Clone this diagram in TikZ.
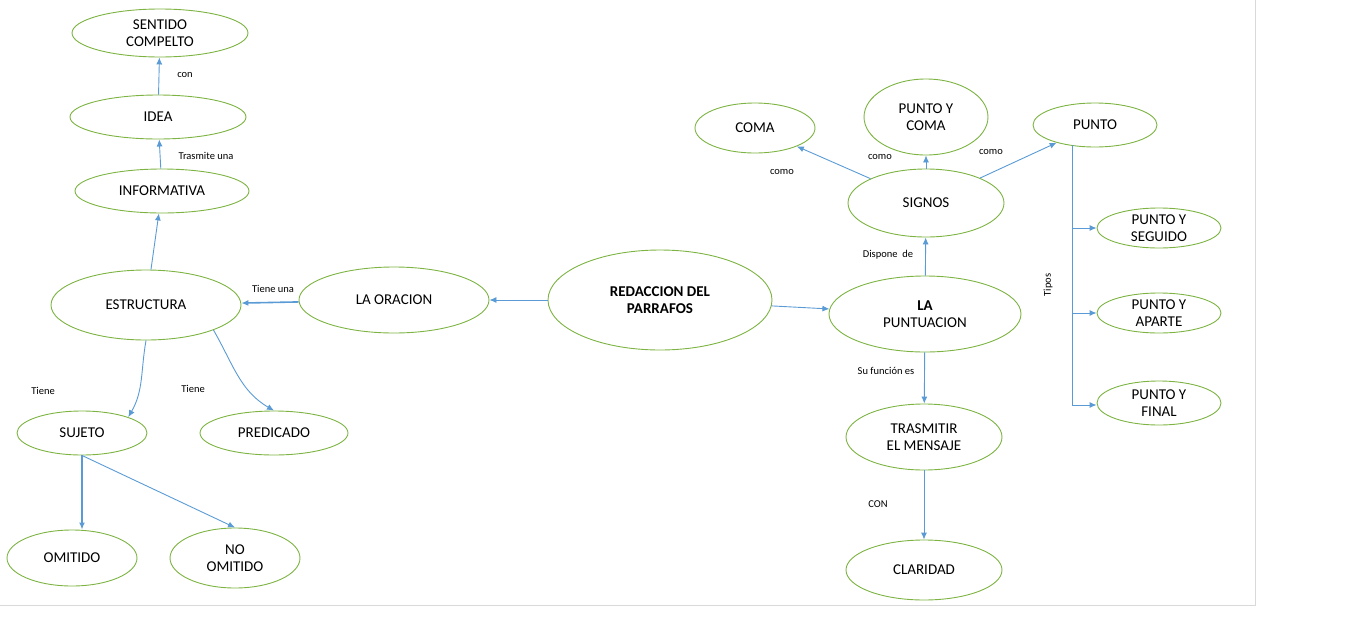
\documentclass[tikz,border=0pt]{standalone}
\usepackage{fontspec}
\setmainfont{Carlito}
\usetikzlibrary{shapes.geometric,arrows.meta}
\definecolor{lineblue}{HTML}{5B9BD5}
\definecolor{ovalgreen}{HTML}{7CB342}
\tikzset{
  concept/.style={ellipse, draw=ovalgreen, line width=0.9pt, inner sep=0pt,
    align=center, font=\fontsize{15}{17}\selectfont},
  link/.style={draw=lineblue, line width=0.9pt, -{Latex[length=7pt,width=6pt]}},
  tag/.style={font=\fontsize{10.5}{12}\selectfont}
}
\begin{document}
\begin{tikzpicture}[x=1pt,y=-1pt]
	\useasboundingbox (0,0) rectangle (1366,619);
	\draw[gray!30, line width=1pt] (1255,0) -- (1255,605) -- (0,605);

	% conceptos
	\node[concept, minimum width=176, minimum height=48] (sentido) at (160,33) {SENTIDO\\COMPELTO};
	\node[concept, minimum width=176, minimum height=44] (idea) at (158,117) {IDEA};
	\node[concept, minimum width=174, minimum height=44] (informativa) at (162,191) {INFORMATIVA};
	\node[concept, minimum width=190, minimum height=70] (estructura) at (146,305) {ESTRUCTURA};
	\node[concept, minimum width=190, minimum height=66] (oracion) at (394,300) {LA ORACION};
	\node[concept, minimum width=224, minimum height=100, font=\bfseries\fontsize{15}{17}\selectfont] (redaccion) at (660,300) {REDACCION DEL\\PARRAFOS};
	\node[concept, minimum width=192, minimum height=76] (puntuacion) at (925,314) {\textbf{LA}\\PUNTUACION};
	\node[concept, minimum width=156, minimum height=68] (signos) at (926,203) {SIGNOS};
	\node[concept, minimum width=120, minimum height=50] (coma) at (755,128) {COMA};
	\node[concept, minimum width=124, minimum height=76] (puntoycoma) at (926,117) {PUNTO Y\\COMA};
	\node[concept, minimum width=124, minimum height=44] (punto) at (1095,125) {PUNTO};
	\node[concept, minimum width=124, minimum height=40] (seguido) at (1159,228) {PUNTO Y\\SEGUIDO};
	\node[concept, minimum width=124, minimum height=40] (aparte) at (1159,313) {PUNTO Y\\APARTE};
	\node[concept, minimum width=124, minimum height=44] (final) at (1159,403) {PUNTO Y\\FINAL};
	\node[concept, minimum width=156, minimum height=66] (trasmitir) at (924,437) {TRASMITIR\\EL MENSAJE};
	\node[concept, minimum width=156, minimum height=60] (claridad) at (924,570) {CLARIDAD};
	\node[concept, minimum width=130, minimum height=44] (sujeto) at (82,433) {SUJETO};
	\node[concept, minimum width=148, minimum height=44] (predicado) at (274,433) {PREDICADO};
	\node[concept, minimum width=130, minimum height=56] (omitido) at (72,558) {OMITIDO};
	\node[concept, minimum width=130, minimum height=60] (noomitido) at (235,558) {NO\\OMITIDO};

	% enlaces
	\draw[link] (estructura) -- (informativa);
	\draw[link] (informativa) -- (idea);
	\draw[link] (idea) -- (sentido);
	\draw[link, line width=1.6pt] (oracion) -- (estructura);
	\draw[link] (redaccion) -- (oracion);
	\draw[link] (redaccion) -- (puntuacion);
	\draw[link] (puntuacion) -- (signos);
	\draw[link] (signos) -- (coma);
	\draw[link] (signos) -- (puntoycoma);
	\draw[link] (signos) -- (punto);
	\draw[link] (puntuacion) -- (trasmitir);
	\draw[link] (trasmitir) -- (claridad);
	\draw[link] (estructura.south) to[out=-100,in=60] (sujeto.north east);
	\draw[link] (estructura.south east) to[out=-60,in=150] (predicado.north);
	\draw[link, line width=1.6pt] (sujeto.south) -- (sujeto.south |- omitido.north);
	\draw[link] (sujeto.south) -- (noomitido.north);

	% tipos de punto
	\coordinate (tree) at (1072,145);
	\draw[lineblue, line width=0.9pt] (tree) -- (1072,405);
	\foreach \n/\y in {seguido/228, aparte/313, final/405}
		\draw[link] (1072,\y) -- (\n.west |- 0,\y);
	\node[tag, rotate=90] at (1048,285) {Tipos};

	% etiquetas
	\node[tag] at (185,75) {con};
	\node[tag] at (206,156) {Trasmite una};
	\node[tag] at (273,289) {Tiene una};
	\node[tag] at (43,391) {Tiene};
	\node[tag] at (193,389) {Tiene};
	\node[tag] at (782,172) {como};
	\node[tag] at (880,157) {como};
	\node[tag] at (991,152) {como};
	\node[tag] at (888,255) {Dispone\ \ de};
	\node[tag] at (886,371) {Su función es};
	\node[tag] at (878,504) {CON};
\end{tikzpicture}
\end{document}
